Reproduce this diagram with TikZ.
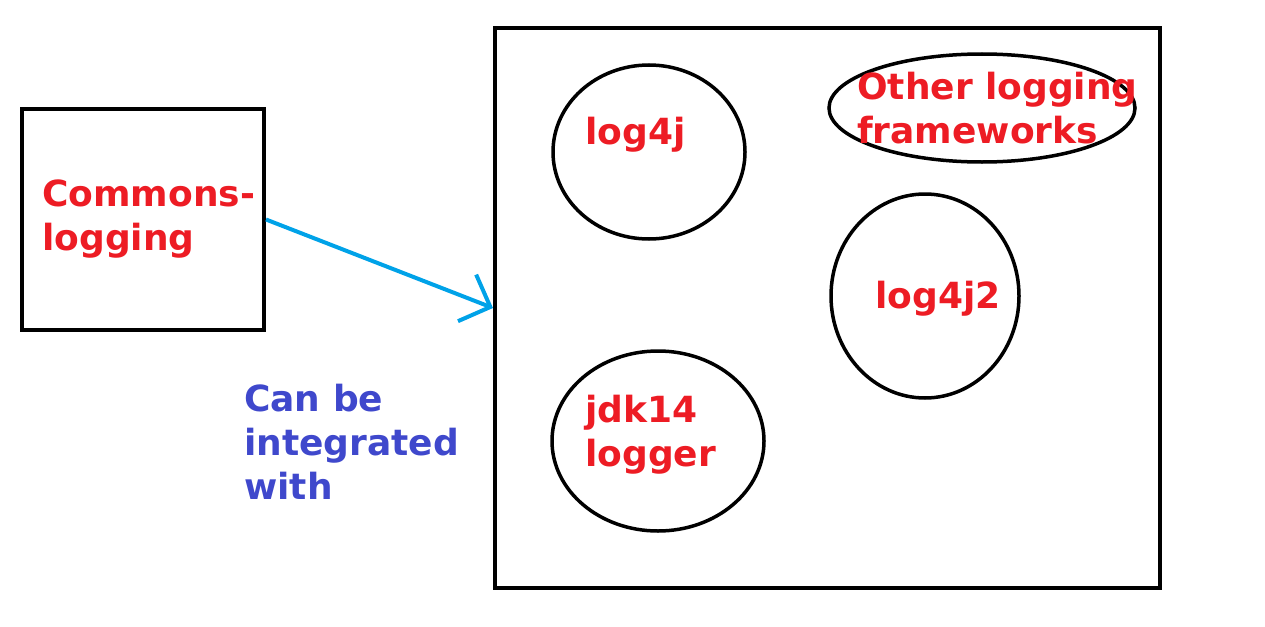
\documentclass[tikz,border=0pt]{standalone}
\usepackage{fontspec}
\setmainfont{DejaVu Sans}
\usetikzlibrary{arrows.meta}
\definecolor{lblred}{RGB}{237,28,36}
\definecolor{lblblue}{RGB}{63,72,204}
\definecolor{arrcyan}{RGB}{0,162,232}
\tikzset{
  frame/.style={draw, line width=4pt, inner sep=0pt},
  lbl/.style={text=lblred, font=\bfseries\fontsize{36}{44}\selectfont, align=left, inner sep=0pt, anchor=north west},
}
\begin{document}
\begin{tikzpicture}[x=1pt, y=-1pt]
  \useasboundingbox (0,0) rectangle (1265,626);
  % boxes
  \node[frame, minimum width=242pt, minimum height=221pt] (commons) at (143,219.5) {};
  \node[frame, minimum width=665pt, minimum height=560pt] (impls) at (827.5,308) {};
  % frameworks
  \draw[line width=3.5pt] (649,152) ellipse [x radius=96, y radius=87];
  \draw[line width=3.5pt] (982,108) ellipse [x radius=153, y radius=54];
  \draw[line width=3.5pt] (925,296) ellipse [x radius=94, y radius=102];
  \draw[line width=3.5pt] (658,441) ellipse [x radius=106, y radius=90];
  % labels
  \node[lbl] (commonslbl) at (42,180) {Commons-\\logging};
  \node[lbl] (log4j) at (585,117) {log4j};
  \node[lbl] (other) at (857,72) {Other logging\\frameworks};
  \node[lbl] (log4jtwo) at (875,281) {log4j2};
  \node[lbl] (jdk) at (585,395) {jdk14\\logger};
  \node[lbl, text=lblblue] (canbe) at (244,384) {Can be\\integrated\\with};
  % connector
  \draw[arrcyan, line width=4pt, -{Straight Barb[length=25pt, width=50pt, line width=4pt]}] (commons.east) -- (impls.west);
\end{tikzpicture}
\end{document}
